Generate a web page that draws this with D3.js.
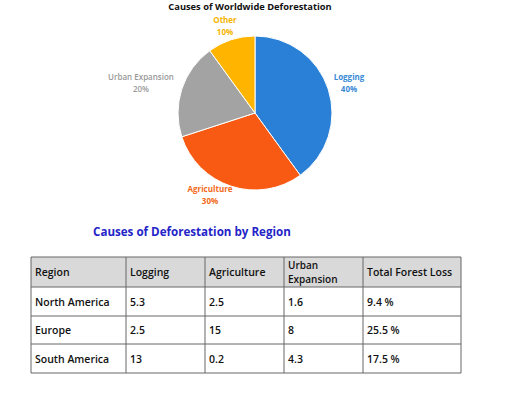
<!DOCTYPE html>
<html>
<head>
<meta charset="UTF-8">
<script src="https://d3js.org/d3.v7.min.js"></script>
<style>
  body { margin: 0; background: #fff; }
  text { font-family: "Open Sans", "DejaVu Sans", sans-serif; }
</style>
</head>
<body>
<script>
// pie data
var causes = ["Logging", "Agriculture", "Urban Expansion", "Other"];
var shares = [40, 30, 20, 10];
var colors = ["#2a7fd6", "#f85a14", "#a3a3a3", "#ffb400"];
var labelColors = ["#3a8ad6", "#f26a20", "#999999", "#f5b400"];

// table data
var columns = ["Region", "Logging", "Agriculture", "Urban\nExpansion", "Total Forest Loss"];
var regions = ["North America", "Europe", "South America"];
var logging = ["5.3", "2.5", "13"];
var agriculture = ["2.5", "15", "0.2"];
var urban = ["1.6", "8", "4.3"];
var totalLoss = ["9.4 %", "25.5 %", "17.5 %"];

var width = 512, height = 395;
var svg = d3.select("body").append("svg")
    .attr("width", width)
    .attr("height", height);

svg.append("text")
    .attr("x", 250).attr("y", 10)
    .attr("text-anchor", "middle")
    .style("font-size", "9.3px").style("font-weight", "bold")
    .attr("fill", "#111")
    .text("Causes of Worldwide Deforestation");

var cx = 255, cy = 113, r = 77;
var pie = d3.pie().sort(null).value(d => d.v);
var arcs = pie(causes.map((c, i) => ({name: c, v: shares[i], i: i})));
var arc = d3.arc().innerRadius(0).outerRadius(r);

var g = svg.append("g").attr("transform", "translate(" + cx + "," + cy + ")");
g.selectAll("path")
    .data(arcs)
    .enter().append("path")
    .attr("d", arc)
    .attr("fill", d => colors[d.data.i])
    .attr("stroke", "#fff")
    .attr("stroke-width", 1);

// label positions (relative to centre)
var labelPos = [[94, -33], [-45, 79], [-114, -33], [-30, -90]];
arcs.forEach(function(d) {
  var p = labelPos[d.data.i];
  var t = g.append("text")
      .attr("text-anchor", "middle")
      .attr("fill", labelColors[d.data.i])
      .style("font-size", "8px").style("font-weight", d.data.i == 2 ? "600" : "bold");
  t.append("tspan").attr("x", p[0]).attr("y", p[1]).text(d.data.name);
  t.append("tspan").attr("x", p[0]).attr("y", p[1] + 12).text(d.data.v + "%");
});

svg.append("text")
    .attr("x", 93).attr("y", 236)
    .style("font-size", "11.6px").style("font-weight", "bold")
    .attr("fill", "#2424c8")
    .text("Causes of Deforestation by Region");

// table
var colX = [31, 126, 205, 284, 363, 461];
var rowY = [257, 287, 316, 344, 373];
var rows = regions.map((r, i) => [r, logging[i], agriculture[i], urban[i], totalLoss[i]]);

var tbl = svg.append("g");
tbl.append("rect")
    .attr("x", colX[0]).attr("y", rowY[0])
    .attr("width", colX[5] - colX[0]).attr("height", rowY[1] - rowY[0])
    .attr("fill", "#d9d9d9");

rowY.forEach(function(y) {
  tbl.append("line").attr("x1", colX[0]).attr("x2", colX[5]).attr("y1", y).attr("y2", y)
      .attr("stroke", "#666").attr("stroke-width", 1);
});
colX.forEach(function(x) {
  tbl.append("line").attr("x1", x).attr("x2", x).attr("y1", rowY[0]).attr("y2", rowY[4])
      .attr("stroke", "#666").attr("stroke-width", 1);
});

columns.forEach(function(c, j) {
  var lines = c.split("\n");
  var mid = (rowY[0] + rowY[1]) / 2;
  var t = tbl.append("text")
      .attr("fill", "#111")
      .style("font-size", lines.length > 1 ? "10px" : "10.5px").style("font-weight", "600");
  lines.forEach(function(l, k) {
    t.append("tspan")
        .attr("x", colX[j] + 4)
        .attr("y", mid + 4 + (k - (lines.length - 1) / 2) * 14)
        .text(l);
  });
});

rows.forEach(function(row, i) {
  var mid = (rowY[i + 1] + rowY[i + 2]) / 2;
  row.forEach(function(v, j) {
    tbl.append("text")
        .attr("x", colX[j] + 4).attr("y", mid + 4)
        .attr("fill", "#111")
        .style("font-size", "10.5px").style("font-weight", "600")
        .text(v);
  });
});
</script>
</body>
</html>
